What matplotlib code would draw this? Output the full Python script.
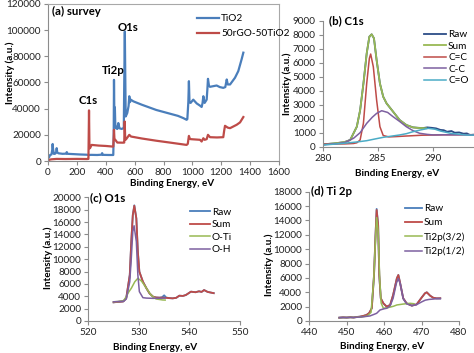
import numpy as np
import matplotlib
matplotlib.use("Agg")
import matplotlib.pyplot as plt

plt.rcParams['font.family'] = ['Lato', 'DejaVu Sans']

BLUE = '#4A7EBB'
DBLUE = '#2C4D87'
RED = '#BE4B48'
GREEN = '#98B954'
PURPLE = '#7D60A0'
CYAN = '#4BACC6'
GRAY = '#8C8C8C'

# (a) survey
tio2_x = [0, 8, 14, 24, 30, 32, 35, 41, 50, 57, 60, 64, 72, 100, 125, 130, 135, 170, 220, 268, 280, 300, 340, 370,
          375, 380, 420, 452, 455, 457, 460, 463, 466, 471, 480, 487, 495, 510, 521, 525, 528, 532, 538, 549, 558,
          563, 568, 573, 591, 650, 700, 750, 800, 850, 900, 937, 960, 965, 972, 976, 980, 988, 1006, 1030, 1053,
          1064, 1070, 1076, 1085, 1099, 1104, 1108, 1115, 1122, 1168, 1190, 1214, 1228, 1238, 1245, 1261, 1295,
          1318, 1341, 1353]
tio2_y = [2000, 3000, 4600, 5000, 9000, 13000, 9000, 5400, 5600, 7000, 9800, 6500, 5900, 5500, 5600, 6800, 5500,
          5300, 5000, 4800, 4600, 4700, 4600, 4800, 6000, 4700, 4600, 4600, 20000, 62000, 30000, 41000, 28000,
          25000, 24500, 29000, 25000, 24500, 25000, 26000, 60000, 99000, 34000, 36700, 42000, 49500, 45000, 46900,
          45600, 43000, 41000, 39000, 37500, 36000, 34500, 32800, 31500, 32000, 45000, 61000, 45000, 44400, 46900,
          44000, 42300, 41300, 44000, 49500, 44400, 46900, 55000, 62800, 57500, 56700, 57700, 56500, 55900, 56500,
          62300, 58500, 58500, 63600, 68700, 77700, 82800]
rgo_x = [0, 10, 25, 60, 120, 200, 270, 280, 284, 287, 291, 302, 350, 400, 452, 455, 457, 460, 466, 480, 520, 528,
         531, 535, 540, 563, 575, 650, 750, 850, 960, 968, 976, 982, 988, 1053, 1064, 1076, 1085, 1099, 1108, 1122,
         1170, 1214, 1220, 1226, 1245, 1261, 1307, 1330, 1353]
rgo_y = [200, 1000, 1300, 1600, 1500, 1600, 1500, 1600, 38700, 9800, 9800, 12300, 11800, 11500, 11000, 18000,
         23800, 17000, 16200, 14100, 14000, 14100, 30200, 16200, 16500, 20000, 18700, 17200, 15500, 14000, 12300,
         13100, 19200, 17000, 16700, 16200, 14900, 17400, 16200, 16700, 20000, 18200, 18000, 18200, 23000, 26900,
         25500, 25100, 27700, 29500, 33600]

# (b) C1s
c_raw_x = [280.0, 280.5, 281.0, 281.5, 282.0, 282.5, 283.1, 283.4, 283.7, 284.0, 284.24, 284.45, 284.66, 284.9,
           285.2, 285.5, 285.8, 286.4, 287.0, 287.6, 288.2, 288.7, 289.1, 289.5, 289.9, 290.3, 290.7, 291.0, 291.3,
           291.7, 292.0, 292.4, 292.8, 293.1, 293.4, 293.7, 294.0]
c_raw_y = [150, 200, 230, 280, 330, 480, 1430, 2600, 4500, 6670, 7860, 8030, 7740, 6190, 4520, 3570, 3100, 2500,
           1900, 1550, 1380, 1350, 1330, 1380, 1350, 1310, 1200, 1180, 1070, 1120, 1000, 1020, 930, 950, 830, 860, 800]
c_sum_x = [280.0, 280.5, 281.0, 281.5, 282.0, 282.5, 283.1, 283.4, 283.7, 284.0, 284.24, 284.45, 284.66, 284.9,
           285.2, 285.5, 285.8, 286.4, 287.0, 287.6, 288.2, 288.7, 289.1, 289.4]
c_sum_y = [170, 200, 240, 280, 340, 480, 1430, 2600, 4500, 6670, 7860, 8030, 7740, 6190, 4520, 3570, 3100, 2500,
           1900, 1550, 1380, 1340, 1330, 1320]
cc_x = [280.0, 281.0, 282.0, 282.8, 283.1, 283.4, 283.7, 284.0, 284.24, 284.36, 284.6, 284.9, 285.2, 285.5, 286.0,
        286.6, 287.5, 289.0, 291.0, 294.0]
cc_y = [180, 190, 200, 230, 280, 480, 1670, 4520, 6310, 6620, 5710, 3330, 1430, 800, 700, 720, 760, 820, 850, 860]
ccs_x = [280.0, 281.0, 282.0, 282.8, 283.4, 284.0, 284.5, 284.9, 285.36, 285.9, 286.4, 287.0, 287.6, 288.2, 288.8,
         289.5, 290.05, 291.0, 292.0, 294.0]
ccs_y = [150, 190, 300, 600, 1000, 1670, 2100, 2380, 2570, 2450, 2140, 1800, 1430, 1150, 960, 880, 840, 850, 850, 850]
co_x = [280.0, 281.0, 282.0, 283.0, 284.0, 284.8, 285.5, 286.3, 287.0, 287.6, 288.2, 288.9, 289.6, 290.2, 290.7,
        291.6, 292.3, 293.1, 294.0]
co_y = [120, 180, 250, 330, 430, 560, 670, 760, 840, 930, 1070, 1200, 1310, 1250, 1120, 960, 900, 830, 830]

# (c) O1s
o_raw_x = [525.0, 526.0, 526.9, 527.5, 528.2, 528.5, 528.8, 529.1, 529.5, 529.8, 530.1, 530.8, 531.5, 532.1, 532.8,
           533.4, 534.1, 534.6, 535.0, 535.4, 536.0, 536.7, 537.4, 538.0, 538.7, 539.3, 540.3, 541.2, 541.9, 542.4,
           542.9, 543.6, 544.2, 544.8]
o_raw_y = [3020, 3100, 3150, 3670, 7440, 12830, 17140, 18700, 16600, 11200, 7970, 6350, 5280, 4470, 3930, 3800,
           3770, 3850, 4150, 3800, 3700, 3660, 3750, 4090, 4050, 4200, 4740, 4650, 4800, 4700, 5000, 4700, 4600, 4500]
o_sum_x = o_raw_x
o_sum_y = [3020, 3100, 3150, 3670, 7440, 12830, 17140, 18640, 16600, 11200, 7970, 6350, 5280, 4470, 3930, 3800,
           3770, 3780, 3760, 3740, 3700, 3660, 3750, 4090, 4050, 4200, 4740, 4650, 4800, 4700, 5000, 4700, 4600, 4500]
oti_x = [525.0, 526.0, 527.0, 527.5, 528.0, 528.5, 529.2, 529.8, 530.5, 531.0, 531.5, 532.4, 533.4, 534.7, 535.2]
oti_y = [3100, 3150, 3300, 3930, 4700, 5280, 6350, 6900, 6470, 5900, 5280, 4200, 3560, 3400, 3380]
oh_x = [525.0, 526.0, 527.0, 527.5, 528.2, 528.5, 528.8, 529.05, 529.5, 529.8, 530.1, 530.8, 531.5, 532.8, 534.0,
        535.2]
oh_y = [3100, 3150, 3200, 3560, 6350, 10130, 14440, 15400, 12830, 7440, 4740, 3770, 3700, 3660, 3680, 3700]

# (d) Ti 2p
ti_x = [448.0, 449.0, 450.0, 451.0, 451.8, 452.6, 453.5, 454.4, 455.3, 456.0, 456.7, 457.3, 457.7, 458.0, 458.4,
        458.7, 459.1, 459.8, 460.7, 461.6, 462.4, 463.4, 463.8, 464.2, 465.1, 466.0, 467.4, 468.7, 470.0, 470.9,
        471.4, 472.3, 473.1, 474.0, 475.0]
ti_raw_y = [460, 520, 470, 540, 480, 560, 600, 700, 840, 1100, 1770, 6400, 11970, 15600, 13370, 6400, 3160, 2460,
            1990, 2230, 3620, 5940, 6400, 5470, 3160, 2460, 2130, 2320, 3240, 3850, 3990, 3520, 3240, 3150, 3160]
ti_sum_y = [460, 500, 480, 520, 480, 540, 600, 700, 840, 1100, 1770, 6400, 11970, 15450, 13370, 6400, 3160, 2460,
            1990, 2230, 3620, 5940, 6400, 5470, 3160, 2460, 2130, 2320, 3240, 3850, 3990, 3520, 3240, 3150, 3160]
ti32_x = [448.0, 450.0, 452.0, 454.0, 455.5, 456.5, 457.2, 457.7, 458.0, 458.4, 458.8, 459.2, 459.8, 461.0, 462.5,
          463.4, 465.0, 466.9, 468.0]
ti32_y = [460, 480, 500, 560, 700, 1200, 5500, 11500, 14400, 12500, 6000, 2500, 1770, 1850, 2050, 2230, 2350, 2460,
          2400]
ti12_x = [448.0, 450.0, 452.0, 454.0, 456.2, 457.2, 458.0, 458.9, 460.0, 460.7, 461.6, 462.4, 463.3, 463.8, 464.3,
          465.1, 466.0, 467.4, 468.7, 470.0, 471.0, 472.0, 473.1, 474.0, 475.0]
ti12_y = [460, 480, 500, 560, 700, 900, 1070, 1530, 1700, 1770, 2100, 3160, 5300, 5900, 5200, 3100, 2400, 2150,
          2280, 2650, 2900, 3000, 3050, 3100, 3100]

fig = plt.figure(figsize=(4.74, 3.53), dpi=100)

ax_a = fig.add_axes([0.1013, 0.5439, 0.4873, 0.4448])
ax_b = fig.add_axes([0.6808, 0.5844, 0.3192, 0.3569])
ax_c = fig.add_axes([0.1863, 0.0907, 0.3200, 0.3504])
ax_d = fig.add_axes([0.6525, 0.0907, 0.3158, 0.3663])

TICK_FS = 7.2
LAB_FS = 7.2


def style(ax, frame=False):
    for side in ['top', 'right']:
        ax.spines[side].set_visible(frame)
    for sp in ax.spines.values():
        sp.set_color('#A8A8A8')
        sp.set_linewidth(0.8)
    ax.spines['left'].set_color(GRAY)
    ax.spines['bottom'].set_color(GRAY)
    ax.tick_params(direction='out', length=3, width=0.8, color=GRAY, labelsize=TICK_FS, pad=2,
                   labelcolor='#222222')


# panel a
ax_a.plot(tio2_x, tio2_y, color=BLUE, lw=1.6, label='TiO2')
ax_a.plot(rgo_x, rgo_y, color=RED, lw=1.6, label='50rGO-50TiO2')
ax_a.set_xlim(0, 1600)
ax_a.set_ylim(0, 120000)
ax_a.set_xticks(range(0, 1601, 200))
ax_a.set_yticks(range(0, 120001, 20000))
style(ax_a, frame=True)
ax_a.text(0.016, 0.955, '(a) survey', transform=ax_a.transAxes, fontsize=8.2, fontweight='bold', va='center')
ax_a.text(556, 102000, 'O1s', fontsize=8.2, fontweight='bold', ha='center', va='center')
ax_a.text(452, 69200, 'Ti2p', fontsize=8.2, fontweight='bold', ha='center', va='center')
ax_a.text(279, 46200, 'C1s', fontsize=8.2, fontweight='bold', ha='center', va='center')
ax_a.set_xlabel('Binding Energy, eV', fontsize=LAB_FS, fontweight='bold')
ax_a.set_ylabel('Intensity (a.u.)', fontsize=LAB_FS, fontweight='bold')
ax_a.xaxis.set_label_coords(0.5355, -0.115)
ax_a.yaxis.set_label_coords(-0.145, 0.56)
ax_a.legend(loc='upper left', bbox_to_anchor=(0.645, 0.934), frameon=False, fontsize=TICK_FS,
            handlelength=2.2, handletextpad=0.2, labelspacing=0.6, borderpad=0, borderaxespad=0)

# panel b
ax_b.plot(c_raw_x, c_raw_y, color=DBLUE, lw=1.3, label='Raw')
ax_b.plot(c_sum_x, c_sum_y, color=GREEN, lw=1.3, label='Sum')
ax_b.plot(cc_x, cc_y, color=RED, lw=1.1, label='C=C')
ax_b.plot(ccs_x, ccs_y, color=PURPLE, lw=1.1, label='C-C')
ax_b.plot(co_x, co_y, color=CYAN, lw=1.1, label='C=O')
ax_b.set_xlim(280, 293.75)
ax_b.set_ylim(0, 9000)
ax_b.set_xticks([280, 285, 290])
ax_b.set_yticks(range(0, 9001, 1000))
style(ax_b)
ax_b.text(0.04, 1.0, '(b) C1s', transform=ax_b.transAxes, fontsize=8.2, fontweight='bold', va='center')
ax_b.set_xlabel('Binding Energy, eV', fontsize=LAB_FS, fontweight='bold')
ax_b.set_ylabel('Intensity (a.u.)', fontsize=LAB_FS, fontweight='bold')
ax_b.xaxis.set_label_coords(0.489, -0.173)
ax_b.yaxis.set_label_coords(-0.205, 0.503)
ax_b.legend(loc='upper left', bbox_to_anchor=(0.67, 0.926), frameon=False, fontsize=TICK_FS,
            handlelength=2.2, handletextpad=0.2, labelspacing=0.25, borderpad=0, borderaxespad=0)

# panel c
ax_c.plot(o_raw_x, o_raw_y, color=BLUE, lw=1.3, label='Raw')
ax_c.plot(o_sum_x, o_sum_y, color=RED, lw=1.3, label='Sum')
ax_c.plot(oti_x, oti_y, color=GREEN, lw=1.1, label='O-Ti')
ax_c.plot(oh_x, oh_y, color=PURPLE, lw=1.1, label='O-H')
ax_c.set_xlim(520, 550)
ax_c.set_ylim(0, 20000)
ax_c.set_xticks([520, 530, 540, 550])
ax_c.set_yticks(range(0, 20001, 2000))
style(ax_c)
ax_c.text(0.012, 1.0, '(c) O1s', transform=ax_c.transAxes, fontsize=8.2, fontweight='bold', va='center')
ax_c.set_xlabel('Binding Energy, eV', fontsize=LAB_FS, fontweight='bold')
ax_c.set_ylabel('Intensity (a.u.)', fontsize=LAB_FS, fontweight='bold')
ax_c.xaxis.set_label_coords(0.44, -0.178)
ax_c.yaxis.set_label_coords(-0.236, 0.509)
ax_c.legend(loc='upper left', bbox_to_anchor=(0.67, 0.916), frameon=False, fontsize=TICK_FS,
            handlelength=2.0, handletextpad=0.2, labelspacing=0.35, borderpad=0, borderaxespad=0)

# panel d
ax_d.plot(ti_x, ti_raw_y, color=BLUE, lw=1.3, label='Raw')
ax_d.plot(ti_x, ti_sum_y, color=RED, lw=1.3, label='Sum')
ax_d.plot(ti32_x, ti32_y, color=GREEN, lw=1.1, label='Ti2p(3/2)')
ax_d.plot(ti12_x, ti12_y, color=PURPLE, lw=1.1, label='Ti2p(1/2)')
ax_d.set_xlim(440, 480)
ax_d.set_ylim(0, 18000)
ax_d.set_xticks([440, 450, 460, 470, 480])
ax_d.set_yticks(range(0, 18001, 2000))
style(ax_d)
ax_d.text(0.01, 1.0, '(d) Ti 2p', transform=ax_d.transAxes, fontsize=8.2, fontweight='bold', va='center')
ax_d.set_xlabel('Binding Energy, eV', fontsize=LAB_FS, fontweight='bold')
ax_d.set_ylabel('Intensity (a.u.)', fontsize=LAB_FS, fontweight='bold')
ax_d.xaxis.set_label_coords(0.484, -0.166)
ax_d.yaxis.set_label_coords(-0.239, 0.433)
ax_d.legend(loc='upper left', bbox_to_anchor=(0.639, 0.9025), frameon=False, fontsize=TICK_FS,
            handlelength=1.7, handletextpad=0.2, labelspacing=0.5, borderpad=0, borderaxespad=0)

fig.savefig('out.png', dpi=100)
